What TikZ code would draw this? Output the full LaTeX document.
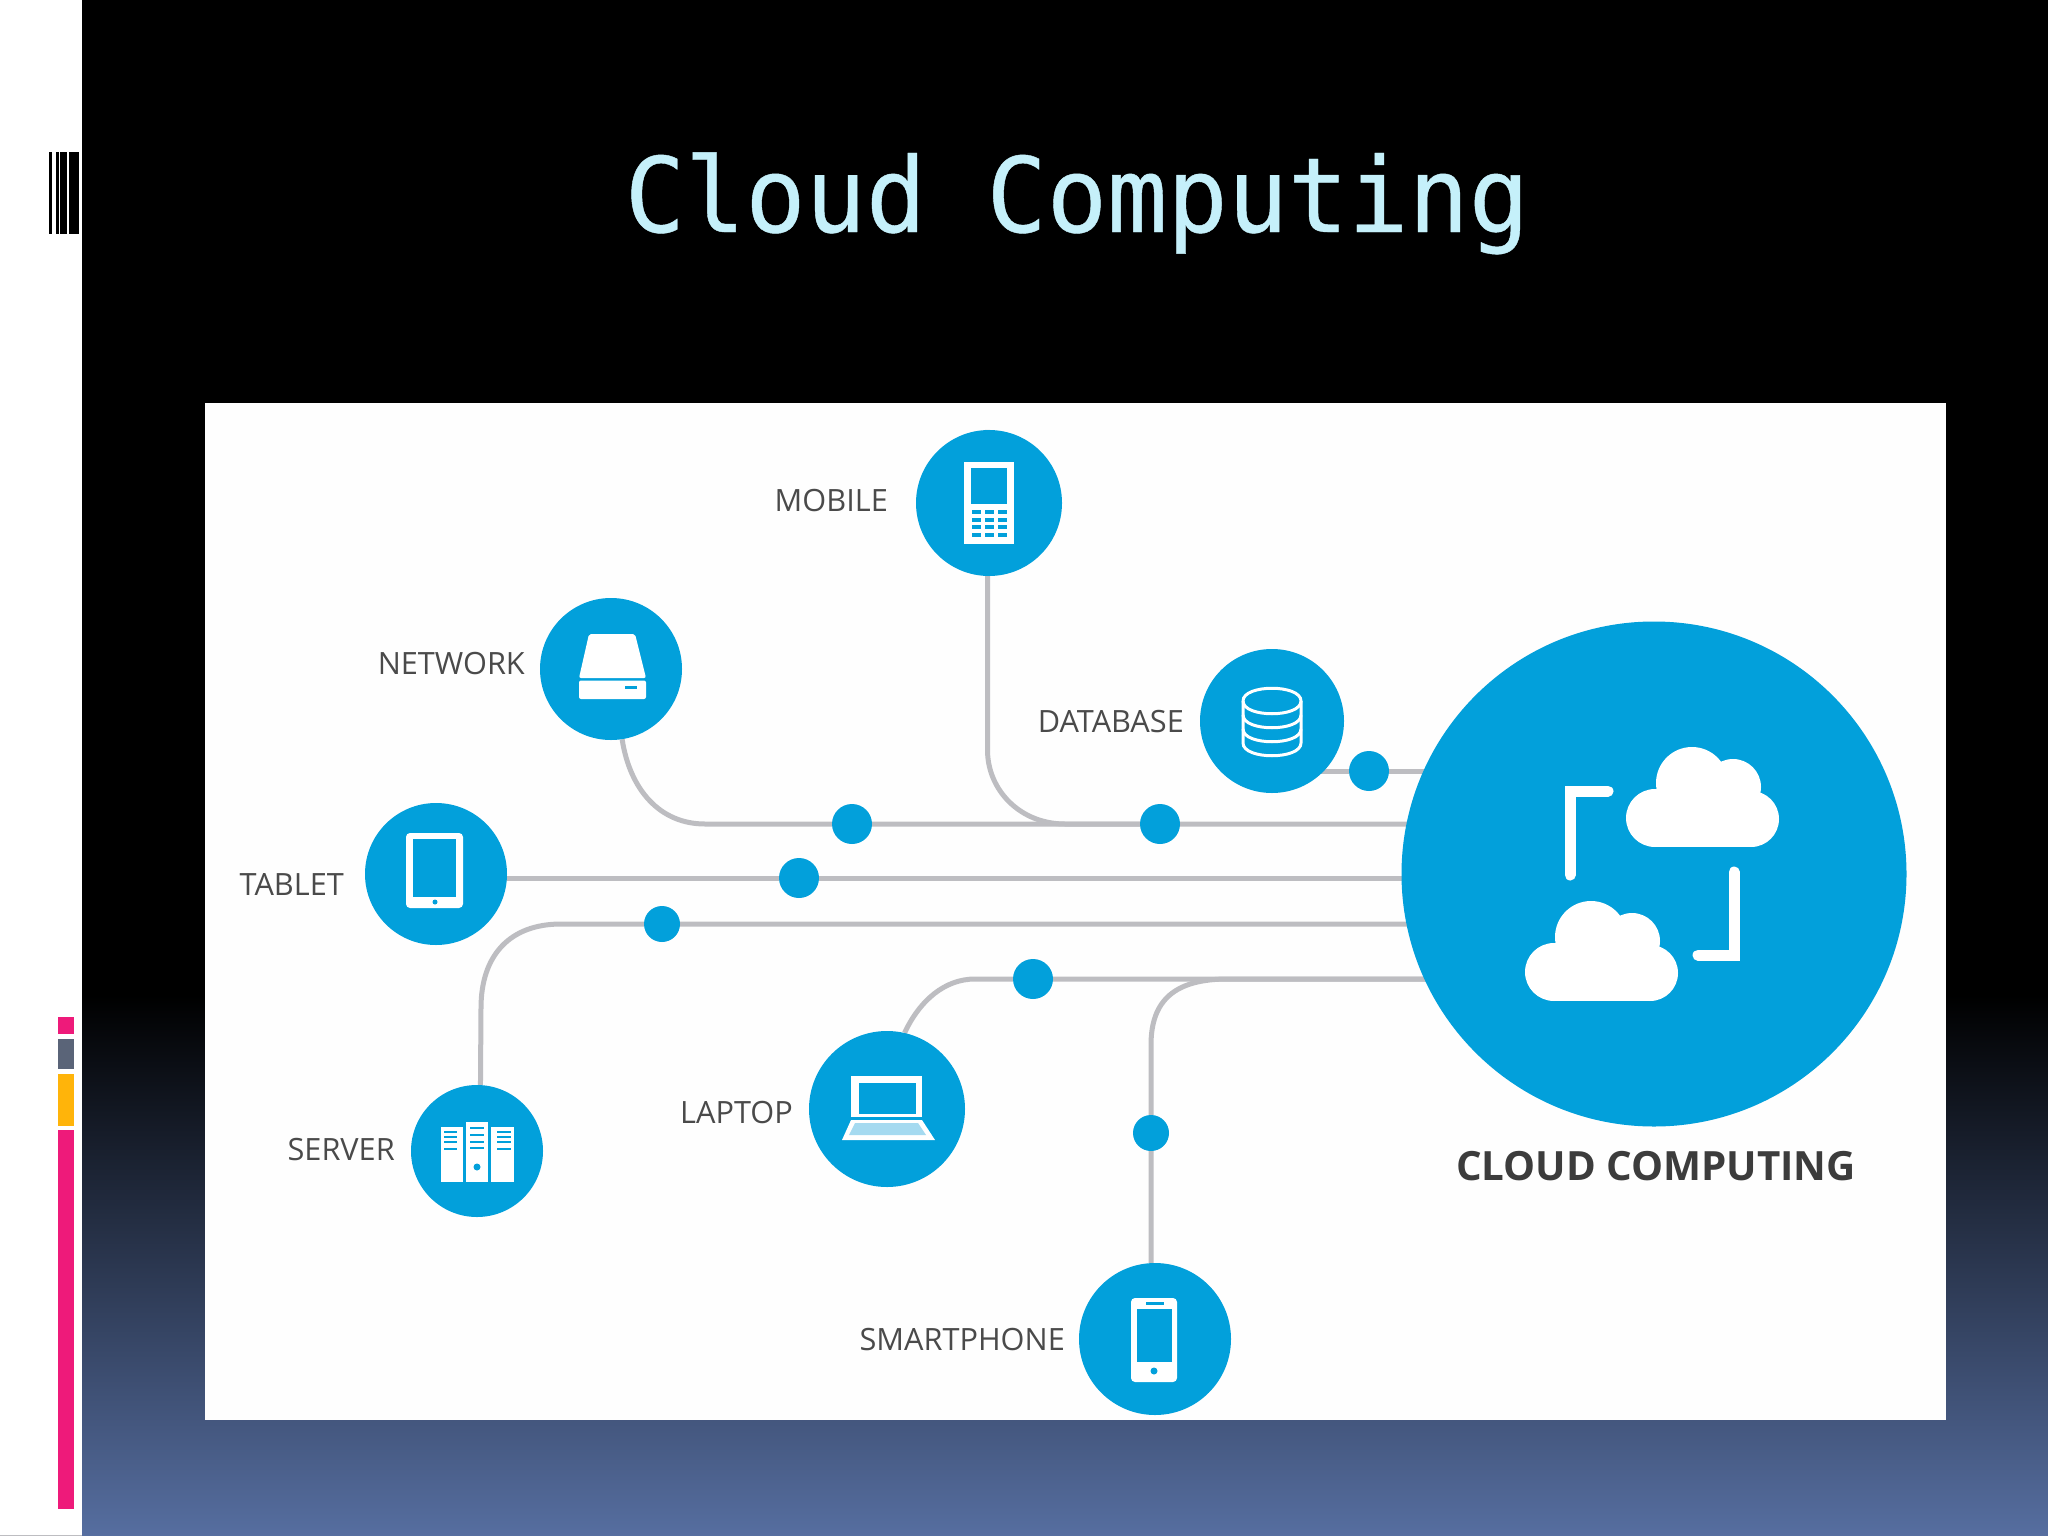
\documentclass[tikz,border=0pt]{standalone}
\usepackage{fontspec}
\setmainfont{Open Sans}
\newfontfamily\titlefont[FakeStretch=0.963,FakeBold=0.4]{DejaVu Sans Mono}
\usetikzlibrary{backgrounds}
\definecolor{sky}{HTML}{02A0DB}
\definecolor{wirec}{HTML}{BDBDC1}
\definecolor{ink}{HTML}{4A4A4A}
\definecolor{inkd}{HTML}{3C3C3C}
\definecolor{titlec}{HTML}{C5F0FA}
\definecolor{pinkc}{HTML}{EE1A7A}
\definecolor{slatec}{HTML}{5A6478}
\definecolor{goldc}{HTML}{FFB40A}
\definecolor{bluec}{HTML}{566EA0}
\definecolor{paper}{HTML}{FEFEFE}
\definecolor{keys}{HTML}{A5DAF0}
\tikzset{
  bubble/.style={circle,fill=sky,inner sep=0pt,minimum size=#1},
  junction/.style={circle,fill=sky,inner sep=0pt,minimum size=#1},
  wire/.style={draw=wirec,line width=5pt},
  tag/.style={anchor=east,inner sep=0pt,text=ink,font=\fontsize{30.7}{36}\selectfont},
  glyph/.style={fill=white,draw=none},
  cutout/.style={fill=sky,draw=none},
  bracket/.style={draw=white,line width=11pt,line cap=round,line join=miter}
}
\newcommand\cloudglyph{%
  \fill[white] (1655,818) circle[radius=29pt];
  \fill[white] (1751,819) circle[radius=28pt];
  \fill[white] (1692,783) circle[radius=36pt];
  \fill[white] (1733,787) circle[radius=28pt];
  \fill[white] (1655,790) rectangle (1751,847);
}
\begin{document}
\begin{tikzpicture}[x=1pt,y=-1pt]
\useasboundingbox (0,0) rectangle (2048,1536);

% round nodes
\node[bubble=146pt] (mobile) at (989,503) {};
\node[bubble=142pt] (network) at (611,669) {};
\node[bubble=144pt] (database) at (1272,721) {};
\node[bubble=142pt] (tablet) at (436,874) {};
\node[bubble=132pt] (server) at (477,1151) {};
\node[bubble=156pt] (laptop) at (887,1109) {};
\node[bubble=152pt] (smartphone) at (1155,1339) {};
\node[bubble=505pt] (cloud) at (1654,874) {};
\node[junction=40pt] (dotA) at (852,824) {};
\node[junction=40pt] (dotB) at (1160,824) {};
\node[junction=40pt] (dotC) at (799,878) {};
\node[junction=36pt] (dotD) at (662,924) {};
\node[junction=40pt] (dotE) at (1033,979) {};
\node[junction=36pt] (dotF) at (1151,1133) {};
\node[junction=40pt] (dotG) at (1369,771) {};

\begin{pgfonlayer}{background}
  % slide
  \fill[black] (82,0) rectangle (2048,1000);
  \shade[top color=black,bottom color=bluec] (82,995) rectangle (2048,1536);
  \fill[white] (0,0) rectangle (82,1536);
  \fill[wirec] (0,1534.5) rectangle (82,1536);
  \fill[black] (49.3,152) rectangle (52.3,234);
  \fill[black] (56,152) rectangle (58.7,234);
  \fill[black] (60.3,152) rectangle (66.7,234);
  \fill[black] (69,152) rectangle (79.3,234);
  \fill[pinkc] (57.5,1017) rectangle (74,1034);
  \fill[slatec] (57.5,1038.5) rectangle (74,1069);
  \fill[goldc] (57.5,1074) rectangle (74,1126);
  \fill[pinkc] (57.5,1130) rectangle (74,1509);
  \fill[paper] (205,403) rectangle (1946,1420);
  % connectors
  \path[wire] (network.279) .. controls (630,790) and (660,824) .. (705,824) -- (dotA) -- (dotB) -- (cloud.center |- dotB);
  \path[wire] (mobile.91) -- (987.5,750) .. controls (987.5,790) and (1020,824) .. (1065,824) -- (dotB);
  \path[wire] (tablet.center |- dotC) -- (dotC) -- (cloud.center |- dotC);
  \path[wire] (server.87) -- (481,1008) .. controls (481,955) and (510,924) .. (561,924) -- (dotD) -- (cloud.center |- dotD);
  \path[wire] (laptop.77) .. controls (920,1000) and (945,979) .. (975,979) -- (dotE) -- (cloud.center |- dotE);
  \path[wire] (smartphone.93) -- (dotF) -- (1151,1045) .. controls (1151,1000) and (1175,979) .. (1228,979) -- (cloud.center |- dotE);
  \path[wire] (database.center |- dotG) -- (dotG) -- (cloud.center |- dotG);
\end{pgfonlayer}

% title and labels
\node[anchor=base,inner sep=0pt,text=titlec,font=\titlefont\fontsize{104}{120}\selectfont] (title) at (1077,232) {Cloud Computing};
\node[tag] (lmobile) at (888,501) {MOBILE};
\node[tag] (lnetwork) at (525,664) {NETWORK};
\node[tag] (ldatabase) at (1184,722) {DATABASE};
\node[tag] (ltablet) at (344,884) {TABLET};
\node[tag] (lserver) at (395,1150) {SERVER};
\node[tag] (llaptop) at (793,1113) {LAPTOP};
\node[tag] (lsmart) at (1065,1340) {SMARTPHONE};
\node[inner sep=0pt,text=inkd,font=\fontsize{40.3}{46}\selectfont\bfseries] (lcloud) at (1656,1166) {CLOUD COMPUTING};

% mobile icon
\fill[glyph] (964,462) rectangle (1014,544);
\fill[cutout] (971,468) rectangle (1007,504);
\foreach \ky in {512,520,527,535}
  \foreach \kx in {976,989,1002}
    \fill[cutout] (\kx-4.5,\ky-2.2) rectangle (\kx+4.5,\ky+2.2);

% network icon
\fill[glyph,rounded corners=2pt] (589,634) -- (635,634) -- (646,678) -- (579,678) -- cycle;
\fill[glyph,rounded corners=2pt] (579,680.5) rectangle (646,699);
\fill[cutout] (625,686) rectangle (637,689);

% database icon
\begin{scope}[draw=white,line width=3pt]
  \draw (1243,701) .. controls (1243,684) and (1301,684) .. (1301,701) .. controls (1301,718) and (1243,718) .. (1243,701);
  \draw (1243,701) -- (1243,743) .. controls (1243,760) and (1301,760) .. (1301,743) -- (1301,701);
  \draw (1243,715) .. controls (1243,732) and (1301,732) .. (1301,715);
  \draw (1243,729) .. controls (1243,746) and (1301,746) .. (1301,729);
\end{scope}

% tablet icon
\fill[glyph,rounded corners=4pt] (406,833) rectangle (463,908);
\fill[cutout] (413,839) rectangle (456,897);
\fill[cutout] (435,902) circle[radius=2.5pt];

% server icon
\fill[glyph] (441,1127) rectangle (463,1182);
\fill[glyph] (466,1122) rectangle (488,1182);
\fill[glyph] (491,1127) rectangle (514,1182);
\foreach \sy in {1132,1137,1142,1149}{
  \fill[cutout] (444,\sy-1.2) rectangle (457,\sy+1.2);
  \fill[cutout] (497,\sy-1.2) rectangle (511,\sy+1.2);
}
\foreach \sy in {1128,1135,1142,1148}
  \fill[cutout] (470,\sy-1.2) rectangle (484,\sy+1.2);
\fill[cutout] (477,1167) circle[radius=3.5pt];

% laptop icon
\fill[glyph] (851,1076) rectangle (922,1117);
\fill[cutout] (859,1083) rectangle (916,1114);
\fill[glyph] (851,1120) -- (922,1120) -- (935,1140) -- (842,1140) -- cycle;
\fill[keys] (855,1123) -- (918,1123) -- (926,1135) -- (849,1135) -- cycle;

% smartphone icon
\fill[glyph,rounded corners=4pt] (1131,1298) rectangle (1177,1382);
\fill[cutout] (1137,1309) rectangle (1172,1362);
\fill[cutout] (1146,1302) rectangle (1164,1304.5);
\fill[cutout] (1154,1371) circle[radius=3.5pt];

% big cloud icon
\cloudglyph
\begin{scope}[shift={(-101,154)}]
  \cloudglyph
\end{scope}
\draw[bracket] (1570,875) -- (1570,791) -- (1608,791);
\draw[bracket] (1734,872) -- (1734,955) -- (1698,955);
\end{tikzpicture}
\end{document}
